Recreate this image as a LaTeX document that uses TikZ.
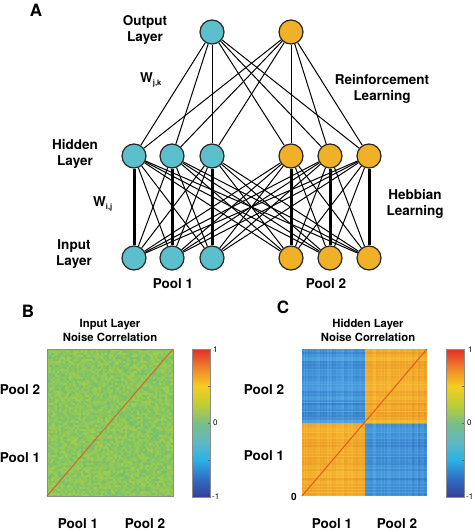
\documentclass[tikz,border=0pt]{standalone}
\usepackage{fontspec}
\setmainfont{TeX Gyre Heros}
\definecolor{ncyan}{RGB}{92,192,204}
\definecolor{norange}{RGB}{240,176,40}
\definecolor{byel}{RGB}{170,207,70}
\definecolor{bteal}{RGB}{110,190,115}
\definecolor{corg}{RGB}{240,165,42}
\definecolor{cblu}{RGB}{62,140,212}
\definecolor{cly}{RGB}{252,205,60}
\definecolor{clb}{RGB}{95,185,238}
\definecolor{cdo}{RGB}{232,135,35}
\definecolor{cdb}{RGB}{45,105,190}
\definecolor{jA}{RGB}{228,45,40}
\definecolor{jB}{RGB}{240,130,42}
\definecolor{jC}{RGB}{246,205,32}
\definecolor{jD}{RGB}{190,206,52}
\definecolor{jE}{RGB}{120,190,135}
\definecolor{jF}{RGB}{95,185,195}
\definecolor{jG}{RGB}{42,178,230}
\definecolor{jH}{RGB}{50,110,198}
\definecolor{jI}{RGB}{55,62,150}
\begin{document}
\begin{tikzpicture}[x=1pt,y=-1pt,
  neuron/.style={circle,draw=black!85,line width=1.2pt,minimum size=24pt,inner sep=0pt},
  cyn/.style={neuron,fill=ncyan},
  org/.style={neuron,fill=norange},
  conn/.style={line width=1pt,black},
  strongconn/.style={line width=3pt,black},
  lbl/.style={font=\fontsize{13.5}{16}\selectfont\bfseries,align=center,inner sep=0pt},
  ttl/.style={font=\fontsize{11.3}{14}\selectfont\bfseries,align=center,inner sep=0pt},
  panel/.style={font=\fontsize{17}{20}\selectfont\bfseries,inner sep=0pt},
  tick/.style={font=\fontsize{8}{9}\selectfont,inner sep=0pt,anchor=west},
  frame/.style={draw=black!45,line width=0.4pt}
]
\useasboundingbox (0,0) rectangle (474,532);
\fill[white] (0,0) rectangle (474,532);

% ---------------- Panel A ----------------
\node[panel] (pA) at (36,10) {A};
\node[cyn] (o1) at (212,32) {};
\node[org] (o2) at (291,32) {};
\foreach \n/\x/\s in {1/134/cyn,2/172/cyn,3/212/cyn,4/291/org,5/330/org,6/369/org}{
  \node[\s] (h\n) at (\x,156) {};
  \node[\s] (i\n) at (\x,258) {};
}
\foreach \k in {1,2}{
  \foreach \j in {1,...,6}{
    \draw[conn] (o\k) -- (h\j);
  }
}
\foreach \a in {1,...,6}{
  \foreach \b in {1,...,6}{
    \ifnum\a=\b
      \draw[strongconn] (i\a) -- (h\b);
    \else
      \draw[conn] (i\a) -- (h\b);
    \fi
  }
}
\node[lbl] (lout) at (145,30) {Output\\Layer};
\node[lbl,anchor=west] (wjk) at (140,80) {W\raisebox{-3pt}{\fontsize{7.5}{8}\selectfont j,k}};
\node[lbl] (lrl) at (382,89) {Reinforcement\\Learning};
\node[lbl] (lhid) at (75,154) {Hidden\\Layer};
\node[lbl,anchor=west] (wij) at (93,204) {W\raisebox{-3pt}{\fontsize{7.5}{8}\selectfont i,j}};
\node[lbl] (lheb) at (415,204) {Hebbian\\Learning};
\node[lbl] (linp) at (74,254) {Input\\Layer};
\node[lbl] (p1) at (173,284) {Pool 1};
\node[lbl] (p2) at (326,284) {Pool 2};

% ---------------- Panel B ----------------
\node[panel] (pB) at (28,311) {B};
\node[ttl] (tB) at (110,330) {Input Layer\\Noise Correlation};
\begin{scope}
\clip (47,349) rectangle (173,496);
\pgfmathsetseed{7}
\foreach \i in {0,...,62}{
  \foreach \j in {0,...,73}{
    \pgfmathsetmacro\p{int(10+80*rnd)}
    \fill[byel!\p!bteal] (47+\i*2,349+\j*2) rectangle ++(2,2);
  }
}
\end{scope}
\coordinate (bbl) at (47,496);
\coordinate (btr) at (173,349);
\draw[frame] (bbl) rectangle (btr);
\draw[line width=1pt,color={rgb,255:red,205;green,105;blue,45}] (bbl) -- (btr);
\node[lbl] (bp2) at (20,390) {Pool 2};
\node[lbl] (bp1) at (20,458) {Pool 1};
\node[lbl] (bx1) at (78,524) {Pool 1};
\node[lbl] (bx2) at (145,524) {Pool 2};

% colourbar B
\foreach \c/\d [count=\k from 0] in {jA/jB,jB/jC,jC/jD,jD/jE,jE/jF,jF/jG,jG/jH,jH/jI}{
  \shade[top color=\c,bottom color=\d] (192,349+\k*18.5) rectangle (210,349+\k*18.5+18.6);
}
\draw[frame] (192,349) rectangle (210,497);
\foreach \y in {386,423,460}{ \draw[black!60,line width=0.4pt] (210,\y) -- (208,\y); }
\node[tick] (cb1) at (213,350) {1};
\node[tick] (cb0) at (213,423) {0};
\node[tick] (cbm) at (212,497) {-1};

% ---------------- Panel C ----------------
\node[panel] (pC) at (283,307) {C};
\node[ttl] (tC) at (368,330) {Hidden Layer\\Noise Correlation};
\begin{scope}
\clip (302,349) rectangle (427,496);
\fill[corg] (302,349) rectangle (427,496);
\fill[cblu] (302,349) rectangle (364.5,422.5);
\fill[cblu] (364.5,422.5) rectangle (427,496);
\pgfmathsetseed{11}
\foreach \i in {0,...,41}{
  \pgfmathsetmacro\xx{302+\i*125/42}
  \pgfmathsetmacro\al{0.55*rnd}
  \pgfmathsetmacro\ad{0.45*rnd}
  \ifnum\i<21
    \fill[clb,opacity=\al] (\xx,349) rectangle ++(2.98,73.5);
    \fill[cly,opacity=\al] (\xx,422.5) rectangle ++(2.98,73.5);
    \fill[cdb,opacity=\ad] (\xx,349) rectangle ++(1.5,73.5);
    \fill[cdo,opacity=\ad] (\xx,422.5) rectangle ++(1.5,73.5);
  \else
    \fill[cly,opacity=\al] (\xx,349) rectangle ++(2.98,73.5);
    \fill[clb,opacity=\al] (\xx,422.5) rectangle ++(2.98,73.5);
    \fill[cdo,opacity=\ad] (\xx,349) rectangle ++(1.5,73.5);
    \fill[cdb,opacity=\ad] (\xx,422.5) rectangle ++(1.5,73.5);
  \fi
}
\foreach \j in {0,...,48}{
  \pgfmathsetmacro\yy{349+\j*147/49}
  \pgfmathsetmacro\al{0.5*rnd}
  \pgfmathsetmacro\ad{0.4*rnd}
  \ifnum\j<25
    \fill[clb,opacity=\al] (302,\yy) rectangle ++(62.5,3);
    \fill[cly,opacity=\al] (364.5,\yy) rectangle ++(62.5,3);
    \fill[cdb,opacity=\ad] (302,\yy) rectangle ++(62.5,1.5);
    \fill[cdo,opacity=\ad] (364.5,\yy) rectangle ++(62.5,1.5);
  \else
    \fill[cly,opacity=\al] (302,\yy) rectangle ++(62.5,3);
    \fill[clb,opacity=\al] (364.5,\yy) rectangle ++(62.5,3);
    \fill[cdo,opacity=\ad] (302,\yy) rectangle ++(62.5,1.5);
    \fill[cdb,opacity=\ad] (364.5,\yy) rectangle ++(62.5,1.5);
  \fi
}
\end{scope}
\coordinate (cbl) at (302,496);
\coordinate (ctr) at (427,349);
\draw[line width=1pt,color={rgb,255:red,225;green,90;blue,30}] (cbl) -- (ctr);
\node[lbl] (cp2) at (264,390) {Pool 2};
\node[lbl] (cp1) at (264,456) {Pool 1};
\node[font=\fontsize{10}{11}\selectfont\bfseries,inner sep=0pt] (c0) at (294,497) {0};
\node[lbl] (cx1) at (332,524) {Pool 1};
\node[lbl] (cx2) at (397,524) {Pool 2};

% colourbar C
\foreach \c/\d [count=\k from 0] in {jA/jB,jB/jC,jC/jD,jD/jE,jE/jF,jF/jG,jG/jH,jH/jI}{
  \shade[top color=\c,bottom color=\d] (446,349+\k*18.5) rectangle (464,349+\k*18.5+18.6);
}
\draw[frame] (446,349) rectangle (464,497);
\foreach \y in {386,423,460}{ \draw[black!60,line width=0.4pt] (464,\y) -- (462,\y); }
\node[tick] (cc1) at (468,350) {1};
\node[tick] (cc0) at (467,423) {0};
\node[tick] (ccm) at (466,497) {-1};
\end{tikzpicture}
\end{document}
